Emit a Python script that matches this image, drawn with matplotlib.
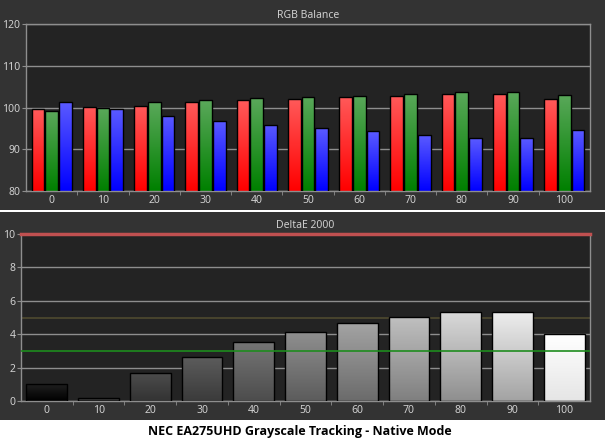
import matplotlib
matplotlib.use("Agg")
import matplotlib.pyplot as plt
import numpy as np
from matplotlib.patches import Rectangle
from matplotlib.colors import to_rgb

# ---- data ----
levels = ["0", "10", "20", "30", "40", "50", "60", "70", "80", "90", "100"]
red_vals = [99.6, 100.2, 100.4, 101.2, 101.7, 102.1, 102.6, 102.8, 103.3, 103.3, 102.1]
green_vals = [99.1, 99.8, 101.2, 101.7, 102.2, 102.6, 102.8, 103.3, 103.8, 103.8, 103.1]
blue_vals = [101.2, 99.6, 98.0, 96.8, 95.9, 95.0, 94.3, 93.3, 92.6, 92.6, 94.5]
deltae_vals = [1.02, 0.16, 1.68, 2.61, 3.51, 4.11, 4.65, 5.01, 5.31, 5.31, 3.99]
rgb_yticks = [80, 90, 100, 110, 120]
de_yticks = [0, 2, 4, 6, 8, 10]
de_limit_red = 10
de_limit_gold = 5
de_limit_green = 3
title = "NEC EA275UHD Grayscale Tracking - Native Mode"

W, H = 605, 441
fig = plt.figure(figsize=(W / 100, H / 100), dpi=100)
fig.patch.set_facecolor("white")

FIG_BG = "#333333"
AX_BG = "#232323"
GRID = "#8e8e8e"
TXT = "#cfcfcf"
FONT = "Noto Sans"

# panel backgrounds
fig.add_artist(Rectangle((0, 1 - 210 / H), 1, 210 / H, transform=fig.transFigure,
                         facecolor=FIG_BG, edgecolor="none", zorder=-10))
fig.add_artist(Rectangle((0, 1 - 420 / H), 1, 208.5 / H, transform=fig.transFigure,
                         facecolor=FIG_BG, edgecolor="none", zorder=-10))


def px_axes(l, t, r, b):
    return fig.add_axes([l / W, 1 - b / H, (r - l) / W, (b - t) / H])


def grad_fill(ax, bar, top_rgb, bot_rgb, y0):
    x0 = bar.get_x()
    w = bar.get_width()
    y1 = bar.get_y() + bar.get_height()
    n = 64
    t = np.linspace(0, 1, n)[:, None]
    top = np.array(top_rgb)
    bot = np.array(bot_rgb)
    img = (bot[None, :] * (1 - t) + top[None, :] * t)[:, None, :]
    im = ax.imshow(img, extent=[x0, x0 + w, y0, y1], origin="lower",
                   aspect="auto", zorder=2, interpolation="bilinear")
    im.set_clip_path(bar)


def style_axes(ax, yticks):
    ax.set_facecolor(AX_BG)
    for s in ax.spines.values():
        s.set_color(GRID)
        s.set_linewidth(1.0)
    ax.set_yticks(yticks)
    ax.set_yticklabels([str(v) for v in yticks], fontfamily=FONT, fontsize=7.5, color=TXT)
    ax.set_xticks(np.arange(len(levels)))
    ax.set_xticklabels(levels, fontfamily=FONT, fontsize=7.5, color=TXT)
    ax.set_xticks(np.arange(len(levels) - 1) + 0.5, minor=True)
    ax.tick_params(axis="x", which="major", length=0, pad=3)
    ax.tick_params(axis="x", which="minor", length=3, color=GRID, direction="out")
    ax.tick_params(axis="y", length=3, color=GRID, pad=1)
    ax.set_xlim(-0.5, len(levels) - 0.5)
    ax.yaxis.grid(True, color=GRID, linewidth=1.0, zorder=0)
    ax.set_axisbelow(True)


# ---- top: RGB balance ----
ax1 = px_axes(26, 24, 590, 191)
style_axes(ax1, rgb_yticks)
ax1.set_ylim(80, 120)
x = np.arange(len(levels))
bw = 0.248
series = [
    (red_vals, -bw - 0.02, "#ff5a5a", "#ff0000"),
    (green_vals, 0.0, "#5aa85a", "#008000"),
    (blue_vals, bw + 0.02, "#5a5aff", "#0000ff"),
]
for vals, off, ctop, cbot in series:
    bars = ax1.bar(x + off, vals, width=bw, color="none", edgecolor="black",
                   linewidth=1.0, zorder=3)
    for b in bars:
        grad_fill(ax1, b, to_rgb(ctop), to_rgb(cbot), 80)
ax1.set_xlim(-0.5, len(levels) - 0.5)
ax1.set_ylim(80, 120)
ax1.text(0.5, 1.02, "RGB Balance", transform=ax1.transAxes, ha="center", va="bottom",
         fontfamily=FONT, fontsize=7.5, color=TXT)

# ---- bottom: DeltaE 2000 ----
ax2 = px_axes(21, 234, 590, 401)
style_axes(ax2, de_yticks)
ax2.set_ylim(0, 10)
tops = [0.13, 0.45, 0.30, 0.36, 0.46, 0.56, 0.64, 0.75, 0.85, 0.93, 1.0]
bots = [0.0, 0.0, 0.20, 0.23, 0.30, 0.36, 0.42, 0.50, 0.56, 0.64, 0.90]
bars = ax2.bar(x, deltae_vals, width=0.79, color="none", edgecolor="black",
               linewidth=1.0, zorder=3)
for b, tp, bt in zip(bars, tops, bots):
    grad_fill(ax2, b, (tp, tp, tp), (bt, bt, bt), 0)
ax2.axhline(de_limit_red, color="#c05050", linewidth=2.5, zorder=4, clip_on=False)
ax2.axhline(de_limit_gold, color="#4f4a30", linewidth=1.2, zorder=1)
ax2.axhline(de_limit_green, color="#1e8c1e", linewidth=1.2, zorder=4)
ax2.set_xlim(-0.5, len(levels) - 0.5)
ax2.set_ylim(0, 10)
ax2.text(0.5, 1.02, "DeltaE 2000", transform=ax2.transAxes, ha="center", va="bottom",
         fontfamily=FONT, fontsize=7.5, color=TXT)

fig.text(300 / W, 1 - 431 / H, title, ha="center", va="center",
         fontfamily="Open Sans", fontweight="bold", fontsize=9, color="black")

fig.savefig("out.png", dpi=100, facecolor=fig.get_facecolor())
